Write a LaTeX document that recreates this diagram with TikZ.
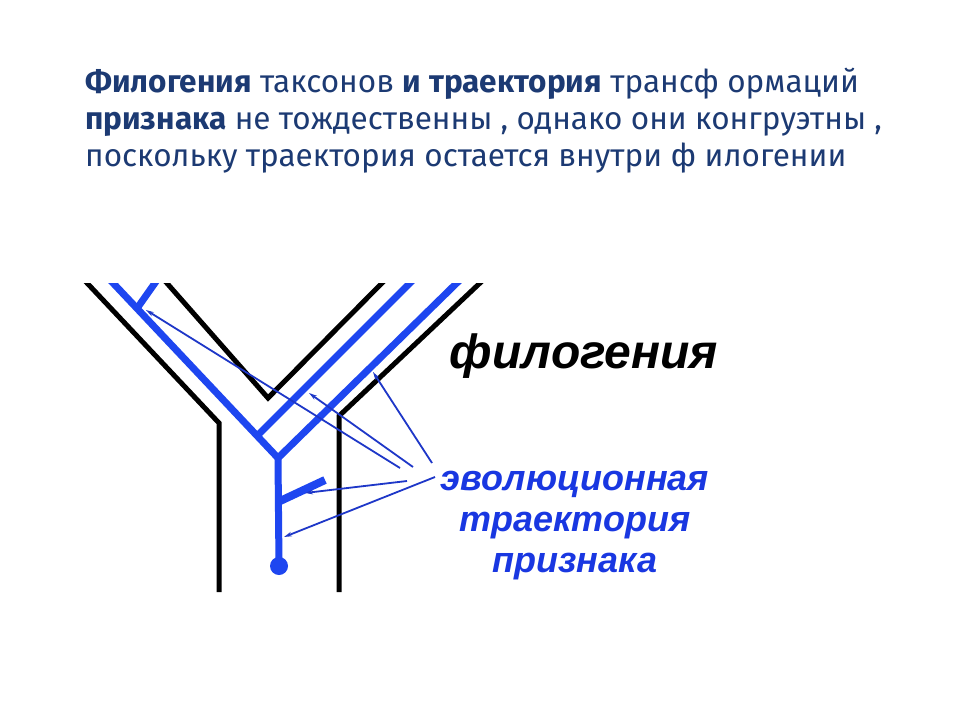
\documentclass[tikz,border=0pt]{standalone}
\usepackage{fontspec}
\setmainfont{Fira Sans}
\newfontfamily\lblfont{Liberation Sans}
\usetikzlibrary{arrows.meta}
\definecolor{titleblue}{RGB}{28,58,115}
\definecolor{trajblue}{RGB}{30,70,240}
\definecolor{labelblue}{RGB}{25,55,225}
\definecolor{arrowblue}{RGB}{30,55,200}
\begin{document}
\begin{tikzpicture}[x=1pt,y=-1pt,
  titletext/.style={anchor=base west,inner sep=0pt,text=titleblue,
    font=\fontsize{31.5}{31.5}\selectfont},
  blackline/.style={line width=5pt,black,line join=miter},
  trajline/.style={line width=7pt,trajblue,line join=miter},
  pointer/.style={line width=1.8pt,arrowblue,-{Stealth[length=8pt,width=4.5pt]}},
]
\useasboundingbox[fill=white] (0,0) rectangle (960,720);

% title
\node[titletext] (t1) at (85,92) {\textbf{Филогения} таксонов \textbf{и} \textbf{траектория} трансф ормаций};
\node[titletext] (t2) at (85,129) {\textbf{признака} не тождественны , однако они конгруэтны ,};
\node[titletext] (t3) at (85,166) {поскольку траектория остается внутри ф илогении};

% diagram
\begin{scope}
\clip (0,283) rectangle (960,720);
\draw[blackline] (77.6,273) -- (219,423) -- (219,592);
\draw[blackline] (158,273) -- (268,398) -- (392,273);
\draw[blackline] (490.6,273) -- (339,416) -- (339,592);
\coordinate (fork) at (278,458);
\coordinate (root) at (279,566);
\draw[trajline] (103.6,273) -- (fork) -- (467,273);
\draw[trajline] (257,436) -- (420,273);
\draw[trajline] (138,307) -- (162,273);
\draw[trajline] (fork) -- (root);
\draw[trajline,line width=8pt] (278,502) -- (325,480);
\fill[trajblue] (root) circle (9pt);
\end{scope}

% labels
\node[anchor=base,inner sep=0pt,font=\lblfont\bfseries\itshape\fontsize{48}{48}\selectfont] (phylo) at (584,368) {филогения};
\node[anchor=base,inner sep=0pt,align=center,text=labelblue,
  font=\lblfont\bfseries\itshape\fontsize{36}{41}\selectfont] (traj) at (575,572)
  {эволюционная\\траектория\\признака};

% pointers
\coordinate (p1s) at (400,468); \coordinate (p1e) at (146,310);
\coordinate (p2s) at (413,467); \coordinate (p2e) at (309,393);
\coordinate (p3s) at (432,463); \coordinate (p3e) at (373,372);
\coordinate (p4s) at (407,481); \coordinate (p4e) at (305,493);
\coordinate (p5s) at (435,477); \coordinate (p5e) at (284,537);
\draw[pointer] (p1s) -- (p1e);
\draw[pointer] (p2s) -- (p2e);
\draw[pointer] (p3s) -- (p3e);
\draw[pointer] (p4s) -- (p4e);
\draw[pointer] (p5s) -- (p5e);
\end{tikzpicture}
\end{document}
